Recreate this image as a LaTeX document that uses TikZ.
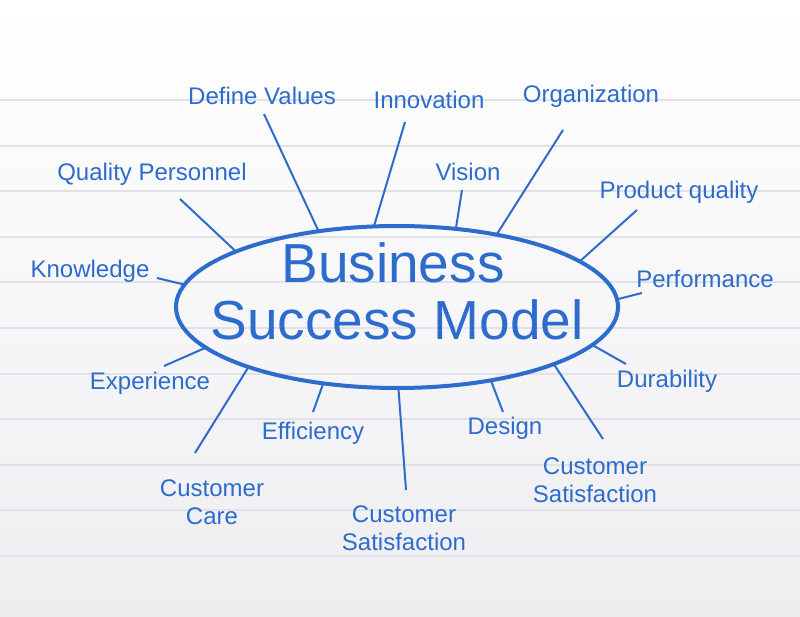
\documentclass[tikz,border=0pt]{standalone}
\usepackage{fontspec}
\setmainfont{Liberation Sans}
\usetikzlibrary{shapes.geometric}

\definecolor{ink}{RGB}{45,107,204}
\definecolor{rulegray}{RGB}{226,226,230}
\definecolor{paperlow}{RGB}{238,238,241}

\tikzset{
  lbl/.style={text=ink, font=\fontsize{24}{28}\selectfont, align=center, inner sep=0pt},
  spoke/.style={draw=ink, line width=2pt},
  titletext/.style={text=ink, font=\fontsize{55}{57}\selectfont, inner sep=0pt, anchor=base}
}

\begin{document}
\begin{tikzpicture}[x=1pt,y=-1pt]
\useasboundingbox (0,0) rectangle (800,617);
\shade[top color=white, bottom color=paperlow, middle color=white!50!paperlow] (0,0) rectangle (800,617);
\foreach \k in {0,...,10}
  \draw[rulegray, line width=2pt] (0,100+45.6*\k) -- (800,100+45.6*\k);

% the model
\node[draw=ink, line width=4pt, ellipse, minimum width=442pt, minimum height=162pt, inner sep=0pt, outer sep=0pt] (bsm) at (397,307) {};
\node[titletext] (biz) at (393,283) {Business};
\node[titletext] (som) at (397,340) {Success Model};

% labels
\node[lbl] (dv) at (262,96) {Define Values};
\node[lbl] (inn) at (429,100) {Innovation};
\node[lbl] (org) at (591,96) {Organization};
\node[lbl] (qp) at (152,174) {Quality Personnel};
\node[lbl] (vis) at (468,172) {Vision};
\node[lbl] (pq) at (679,192) {Product quality};
\node[lbl] (kn) at (90,271) {Knowledge};
\node[lbl] (perf) at (705,279) {Performance};
\node[lbl] (exp) at (150,383) {Experience};
\node[lbl] (dur) at (667,381) {Durability};
\node[lbl] (eff) at (313,433) {Efficiency};
\node[lbl] (des) at (505,428) {Design};
\node[lbl] (csr) at (595,480) {Customer\\Satisfaction};
\node[lbl] (cc) at (212,502) {Customer\\Care};
\node[lbl] (csb) at (404,528) {Customer\\Satisfaction};

% spoke ends
\coordinate (dv-tip) at (264,114);
\coordinate (inn-tip) at (405,122);
\coordinate (org-tip) at (563,130);
\coordinate (qp-tip) at (180,199);
\coordinate (vis-tip) at (462,190);
\coordinate (pq-tip) at (637,210);
\coordinate (kn-tip) at (157,278);
\coordinate (perf-tip) at (642,293);
\coordinate (exp-tip) at (164,366);
\coordinate (dur-tip) at (626,364);
\coordinate (cc-tip) at (195,453);
\coordinate (eff-tip) at (313,412);
\coordinate (csb-tip) at (406,490);
\coordinate (des-tip) at (503,412);
\coordinate (csr-tip) at (603,439);

\draw[spoke] (dv-tip) -- (bsm.136);
\draw[spoke] (inn-tip) -- (bsm.106);
\draw[spoke] (org-tip) -- (bsm.36);
\draw[spoke] (qp-tip) -- (bsm.161);
\draw[spoke] (vis-tip) -- (bsm.53);
\draw[spoke] (pq-tip) -- (bsm.14);
\draw[spoke] (kn-tip) -- (bsm.174);
\draw[spoke] (perf-tip) -- (bsm.2);
\draw[spoke] (exp-tip) -- (bsm.192);
\draw[spoke] (dur-tip) -- (bsm.349);
\draw[spoke] (cc-tip) -- (bsm.202);
\draw[spoke] (eff-tip) -- (bsm.226);
\draw[spoke] (csb-tip) -- (bsm.271);
\draw[spoke] (des-tip) -- (bsm.322);
\draw[spoke] (csr-tip) -- (bsm.340);
\end{tikzpicture}
\end{document}
